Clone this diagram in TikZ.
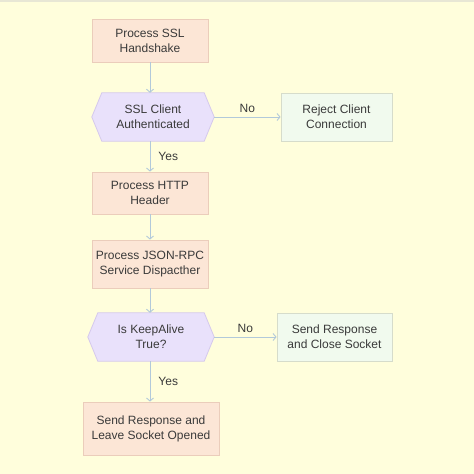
\documentclass[tikz,border=0pt]{standalone}
\usepackage{fontspec}
\setmainfont{Liberation Sans}
\usetikzlibrary{arrows.meta}
\pgfdeclarelayer{bg}
\pgfsetlayers{bg,main}
\definecolor{pagebg}{HTML}{FFFEDC}
\definecolor{topline}{HTML}{E8E7D5}
\definecolor{peachfill}{HTML}{FCE6D6}
\definecolor{peachdraw}{HTML}{EBCDBB}
\definecolor{lavfill}{HTML}{E9E1FB}
\definecolor{lavdraw}{HTML}{D5C9EC}
\definecolor{greenfill}{HTML}{F1FAEE}
\definecolor{greendraw}{HTML}{D6DCCB}
\definecolor{txt}{HTML}{3A3A3A}
\definecolor{arrowc}{HTML}{B2C9DA}
\tikzset{
  base/.style={font=\fontsize{12}{15}\selectfont, text=txt, align=center, inner sep=0pt},
  peachbox/.style={base, draw=peachdraw, fill=peachfill, line width=0.8pt},
  greenbox/.style={base, draw=greendraw, fill=greenfill, line width=0.8pt},
  hextext/.style={base},
  hexshape/.style={draw=lavdraw, fill=lavfill, line width=0.8pt},
  conn/.style={draw=arrowc, line width=0.9pt, -{Straight Barb[length=3pt,width=7pt]}},
  lbl/.style={base}
}
\begin{document}
\begin{tikzpicture}[x=1pt,y=1pt]
\begin{pgfonlayer}{bg}
\fill[pagebg] (0,0) rectangle (474,474);
\fill[topline] (0,472) rectangle (474,474);
\end{pgfonlayer}
\useasboundingbox (0,0) rectangle (474,474);

\node[peachbox, minimum width=116pt, minimum height=43pt] (b1) at (150,433.5) {Process SSL\\Handshake};
\node[hextext, minimum width=122pt, minimum height=48pt] (h1) at (153,357) {SSL Client\\Authenticated};
\node[greenbox, minimum width=111pt, minimum height=48pt] (r1) at (336.5,357) {Reject Client\\Connection};
\node[peachbox, minimum width=116pt, minimum height=42pt] (b2) at (150,281) {Process HTTP\\Header};
\node[peachbox, minimum width=116pt, minimum height=48pt] (b3) at (150,210) {Process JSON-RPC\\Service Dispacther};
\node[hextext, minimum width=126pt, minimum height=48pt] (h2) at (151,137) {Is KeepAlive\\True?};
\node[greenbox, minimum width=115pt, minimum height=48pt] (r2) at (334.5,137) {Send Response\\and Close Socket};
\node[peachbox, minimum width=136pt, minimum height=53pt] (b4) at (151,45.5) {Send Response and\\Leave Socket Opened};

\begin{pgfonlayer}{bg}
\path[hexshape] ([xshift=10pt]h1.north west) -- ([xshift=-10pt]h1.north east) -- (h1.east)
  -- ([xshift=-10pt]h1.south east) -- ([xshift=10pt]h1.south west) -- (h1.west) -- cycle;
\path[hexshape] ([xshift=10pt]h2.north west) -- ([xshift=-10pt]h2.north east) -- (h2.east)
  -- ([xshift=-10pt]h2.south east) -- ([xshift=10pt]h2.south west) -- (h2.west) -- cycle;
\end{pgfonlayer}

\draw[conn] (b1.south) -- (b1.south |- h1.north);
\draw[conn] (h1.east) -- (r1.west) node[lbl, midway, above=4pt] (no1) {No};
\draw[conn] (h1.south -| b1.south) -- (b2.north) node[lbl, pos=0.5, right=8pt] (yes1) {Yes};
\draw[conn] (b2.south) -- (b3.north);
\draw[conn] (b3.south) -- (b3.south |- h2.north);
\draw[conn] (h2.east) -- (r2.west) node[lbl, midway, above=4pt] (no2) {No};
\draw[conn] (h2.south -| b3.south) -- (b3.south |- b4.north) node[lbl, midway, right=8pt] (yes2) {Yes};
\end{tikzpicture}
\end{document}
